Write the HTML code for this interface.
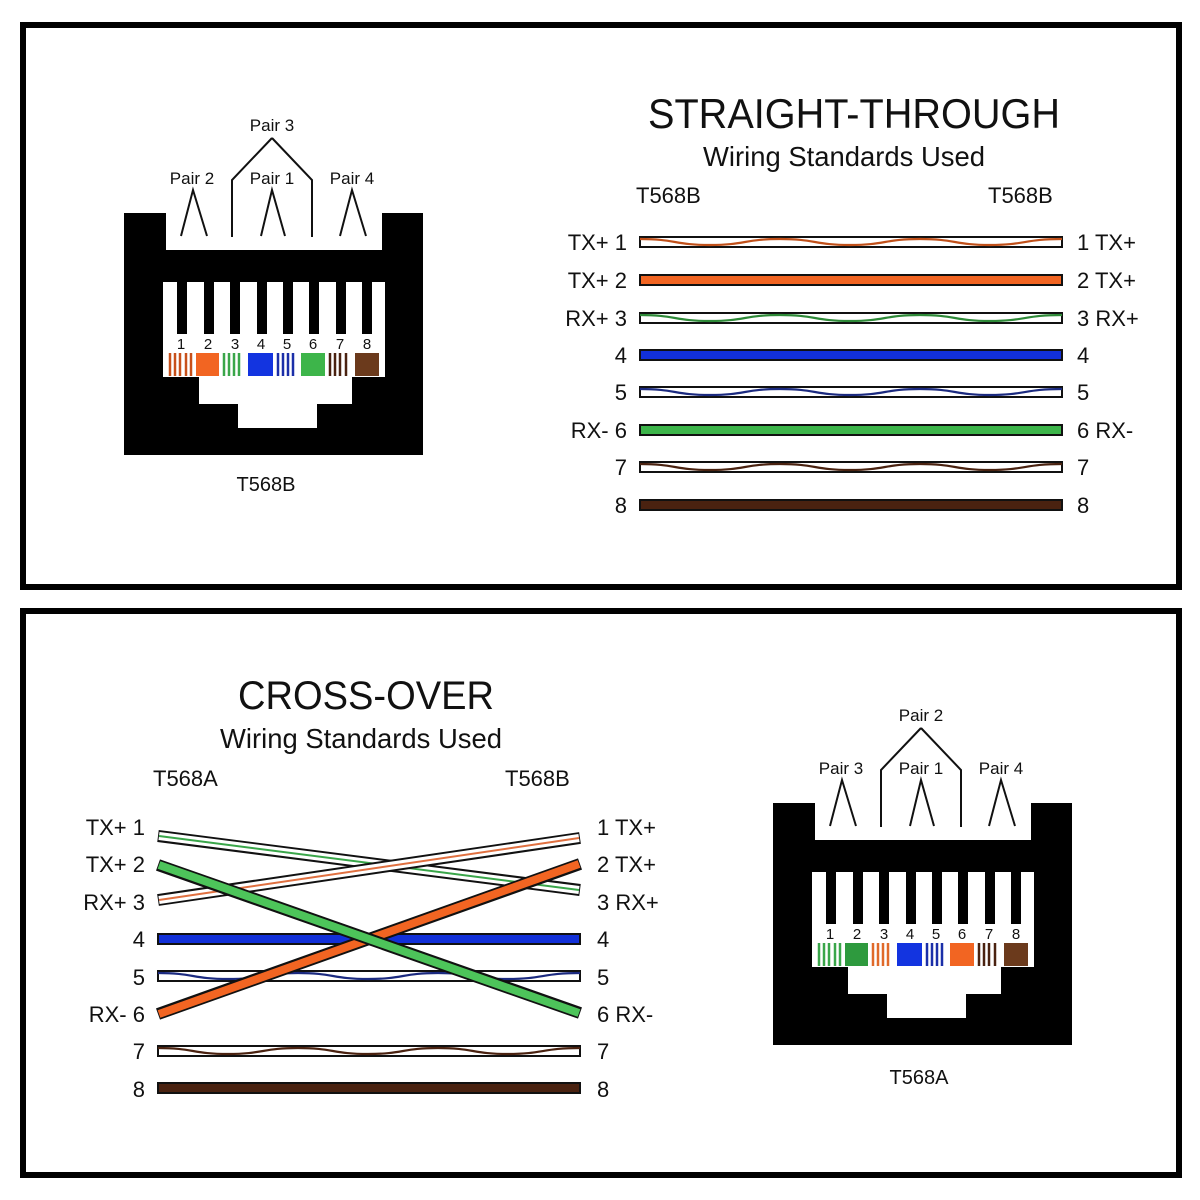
<!DOCTYPE html>
<html><head><meta charset="utf-8"><style>
html,body{margin:0;padding:0;background:#fff}
svg{display:block}
text{font-family:"Liberation Sans",sans-serif;fill:#111}
</style></head><body>
<svg width="1200" height="1200" viewBox="0 0 1200 1200" xmlns="http://www.w3.org/2000/svg">
<defs>
<g id="tw">
<path d="M0,-3 C35,-3 35,3 70,3 S105,-3 140,-3 S175,3 210,3 S245,-3 280,-3 S315,3 350,3 S385,-3 422,-3" fill="none" stroke-width="2.2"/>
</g>
</defs>
<rect x="23" y="25" width="1156" height="562" fill="none" stroke="#000" stroke-width="6"/>
<rect x="23" y="611" width="1156" height="564" fill="none" stroke="#000" stroke-width="6"/>

<!-- Connector 1 -->
<g id="c1">
<rect x="124" y="213" width="299" height="242" fill="#000"/>
<rect x="166" y="213" width="216" height="37" fill="#fff"/>
<rect x="163" y="282" width="222" height="95" fill="#fff"/>
<rect x="199" y="376" width="153" height="28" fill="#fff"/>
<rect x="238" y="403" width="79" height="25" fill="#fff"/>
<g fill="#000">
<rect x="177" y="282" width="10" height="52"/><rect x="204" y="282" width="10" height="52"/>
<rect x="230" y="282" width="10" height="52"/><rect x="257" y="282" width="10" height="52"/>
<rect x="283" y="282" width="10" height="52"/><rect x="309" y="282" width="10" height="52"/>
<rect x="336" y="282" width="10" height="52"/><rect x="362" y="282" width="10" height="52"/>
</g>
</g>
<g font-size="15" text-anchor="middle">
<text x="181" y="349">1</text><text x="208" y="349">2</text><text x="235" y="349">3</text><text x="261" y="349">4</text><text x="287" y="349">5</text><text x="313" y="349">6</text><text x="340" y="349">7</text><text x="367" y="349">8</text>
</g>
<!-- bands T568B -->
<g stroke-width="2.5">
<g stroke="#c8501a"><line x1="170" y1="353" x2="170" y2="376"/><line x1="175" y1="353" x2="175" y2="376"/><line x1="180" y1="353" x2="180" y2="376"/><line x1="186" y1="353" x2="186" y2="376"/><line x1="191" y1="353" x2="191" y2="376"/></g>
<rect x="196" y="353" width="23" height="23" fill="#f26522" stroke="none"/>
<g stroke="#3aa64a"><line x1="224" y1="353" x2="224" y2="376"/><line x1="229" y1="353" x2="229" y2="376"/><line x1="234" y1="353" x2="234" y2="376"/><line x1="239" y1="353" x2="239" y2="376"/></g>
<rect x="248" y="353" width="25" height="23" fill="#1334e0" stroke="none"/>
<g stroke="#1b2fa8"><line x1="278" y1="353" x2="278" y2="376"/><line x1="283" y1="353" x2="283" y2="376"/><line x1="288" y1="353" x2="288" y2="376"/><line x1="293" y1="353" x2="293" y2="376"/></g>
<rect x="301" y="353" width="24" height="23" fill="#3db54a" stroke="none"/>
<g stroke="#4a2210"><line x1="330" y1="353" x2="330" y2="376"/><line x1="335" y1="353" x2="335" y2="376"/><line x1="340" y1="353" x2="340" y2="376"/><line x1="346" y1="353" x2="346" y2="376"/></g>
<rect x="355" y="353" width="24" height="23" fill="#6b3a1c" stroke="none"/>
</g>
<g fill="none" stroke="#111" stroke-width="2">
<path d="M272,138 L232,180 L232,237 M272,138 L312,180 L312,237"/>
<path d="M181,236 L193,190 L207,236"/>
<path d="M261,236 L272,190 L285,236"/>
<path d="M340,236 L352,190 L366,236"/>
</g>
<g font-size="17" text-anchor="middle">
<text x="272" y="131">Pair 3</text><text x="192" y="184">Pair 2</text><text x="272" y="184">Pair 1</text><text x="352" y="184">Pair 4</text>
</g>
<text x="266" y="491" font-size="20" text-anchor="middle">T568B</text>

<!-- Straight-through -->
<text x="648" y="128" font-size="42" textLength="412" lengthAdjust="spacingAndGlyphs">STRAIGHT-THROUGH</text>
<text x="703" y="166" font-size="28" textLength="282" lengthAdjust="spacingAndGlyphs">Wiring Standards Used</text>
<text x="636" y="203" font-size="22">T568B</text>
<text x="988" y="203" font-size="22">T568B</text>
<g stroke="#111" stroke-width="2">
<rect x="640" y="237" width="422" height="10" fill="#fff"/>
<rect x="640" y="275" width="422" height="10" fill="#f26522"/>
<rect x="640" y="313" width="422" height="10" fill="#fff"/>
<rect x="640" y="350" width="422" height="10" fill="#1230d8"/>
<rect x="640" y="387" width="422" height="10" fill="#fff"/>
<rect x="640" y="425" width="422" height="10" fill="#3db54a"/>
<rect x="640" y="462" width="422" height="10" fill="#fff"/>
<rect x="640" y="500" width="422" height="10" fill="#4a2210"/>
</g>
<use href="#tw" x="640" y="242" stroke="#c0501a"/>
<use href="#tw" x="640" y="318" stroke="#2e8a38"/>
<use href="#tw" x="640" y="392" stroke="#1b2a80"/>
<use href="#tw" x="640" y="467" stroke="#4a2210"/>
<g font-size="22" text-anchor="end">
<text x="627" y="250">TX+ 1</text><text x="627" y="288">TX+ 2</text><text x="627" y="326">RX+ 3</text><text x="627" y="363">4</text>
<text x="627" y="400">5</text><text x="627" y="438">RX- 6</text><text x="627" y="475">7</text><text x="627" y="513">8</text>
</g>
<g font-size="22">
<text x="1077" y="250">1 TX+</text><text x="1077" y="288">2 TX+</text><text x="1077" y="326">3 RX+</text><text x="1077" y="363">4</text>
<text x="1077" y="400">5</text><text x="1077" y="438">6 RX-</text><text x="1077" y="475">7</text><text x="1077" y="513">8</text>
</g>

<!-- Cross-over -->
<text x="238" y="709" font-size="40" textLength="256" lengthAdjust="spacingAndGlyphs">CROSS-OVER</text>
<text x="220" y="748" font-size="28" textLength="282" lengthAdjust="spacingAndGlyphs">Wiring Standards Used</text>
<text x="153" y="786" font-size="22">T568A</text>
<text x="505" y="786" font-size="22">T568B</text>
<g stroke="#111" stroke-width="2">
<rect x="158" y="934" width="422" height="10" fill="#1230d8"/>
<rect x="158" y="971" width="422" height="10" fill="#fff"/>
<rect x="158" y="1046" width="422" height="10" fill="#fff"/>
<rect x="158" y="1083" width="422" height="10" fill="#4a2210"/>
</g>
<use href="#tw" x="158" y="976" stroke="#1b2a80"/>
<use href="#tw" x="158" y="1051" stroke="#4a2210"/>
<!-- crossed wires -->
<g stroke-linecap="butt">
<line x1="158" y1="836" x2="580" y2="890" stroke="#111" stroke-width="12"/>
<line x1="159" y1="836" x2="579" y2="890" stroke="#fff" stroke-width="8"/>
<line x1="159" y1="836" x2="579" y2="890" stroke="#3aa64a" stroke-width="2"/>
<line x1="158" y1="900" x2="580" y2="838" stroke="#111" stroke-width="12"/>
<line x1="159" y1="900" x2="579" y2="838" stroke="#fff" stroke-width="8"/>
<line x1="159" y1="900" x2="579" y2="838" stroke="#e07040" stroke-width="2"/>
<line x1="158" y1="1014" x2="580" y2="864" stroke="#111" stroke-width="12"/>
<line x1="159" y1="1014" x2="579" y2="864" stroke="#f26522" stroke-width="8"/>
<line x1="158" y1="865" x2="580" y2="1013" stroke="#111" stroke-width="12"/>
<line x1="159" y1="865" x2="579" y2="1013" stroke="#4dc45a" stroke-width="8"/>
</g>
<g font-size="22" text-anchor="end">
<text x="145" y="835">TX+ 1</text><text x="145" y="872">TX+ 2</text><text x="145" y="910">RX+ 3</text><text x="145" y="947">4</text>
<text x="145" y="985">5</text><text x="145" y="1022">RX- 6</text><text x="145" y="1059">7</text><text x="145" y="1097">8</text>
</g>
<g font-size="22">
<text x="597" y="835">1 TX+</text><text x="597" y="872">2 TX+</text><text x="597" y="910">3 RX+</text><text x="597" y="947">4</text>
<text x="597" y="985">5</text><text x="597" y="1022">6 RX-</text><text x="597" y="1059">7</text><text x="597" y="1097">8</text>
</g>

<!-- Connector 2 -->
<g transform="translate(649,590)">
<use href="#c1"/>
<g font-size="15" text-anchor="middle">
<text x="181" y="349">1</text><text x="208" y="349">2</text><text x="235" y="349">3</text><text x="261" y="349">4</text><text x="287" y="349">5</text><text x="313" y="349">6</text><text x="340" y="349">7</text><text x="367" y="349">8</text>
</g>
<g stroke-width="2.5">
<g stroke="#3aa64a"><line x1="170" y1="353" x2="170" y2="376"/><line x1="175" y1="353" x2="175" y2="376"/><line x1="180" y1="353" x2="180" y2="376"/><line x1="186" y1="353" x2="186" y2="376"/><line x1="191" y1="353" x2="191" y2="376"/></g>
<rect x="196" y="353" width="23" height="23" fill="#2e9a3e" stroke="none"/>
<g stroke="#e06a2a"><line x1="224" y1="353" x2="224" y2="376"/><line x1="229" y1="353" x2="229" y2="376"/><line x1="234" y1="353" x2="234" y2="376"/><line x1="239" y1="353" x2="239" y2="376"/></g>
<rect x="248" y="353" width="25" height="23" fill="#1334e0" stroke="none"/>
<g stroke="#1b2fa8"><line x1="278" y1="353" x2="278" y2="376"/><line x1="283" y1="353" x2="283" y2="376"/><line x1="288" y1="353" x2="288" y2="376"/><line x1="293" y1="353" x2="293" y2="376"/></g>
<rect x="301" y="353" width="24" height="23" fill="#f26522" stroke="none"/>
<g stroke="#4a2210"><line x1="330" y1="353" x2="330" y2="376"/><line x1="335" y1="353" x2="335" y2="376"/><line x1="340" y1="353" x2="340" y2="376"/><line x1="346" y1="353" x2="346" y2="376"/></g>
<rect x="355" y="353" width="24" height="23" fill="#6b3a1c" stroke="none"/>
</g>
<g fill="none" stroke="#111" stroke-width="2">
<path d="M272,138 L232,180 L232,237 M272,138 L312,180 L312,237"/>
<path d="M181,236 L193,190 L207,236"/>
<path d="M261,236 L272,190 L285,236"/>
<path d="M340,236 L352,190 L366,236"/>
</g>
<g font-size="17" text-anchor="middle">
<text x="272" y="131">Pair 2</text><text x="192" y="184">Pair 3</text><text x="272" y="184">Pair 1</text><text x="352" y="184">Pair 4</text>
</g>
<text x="270" y="494" font-size="20" text-anchor="middle">T568A</text>
</g>
</svg>
</body></html>
